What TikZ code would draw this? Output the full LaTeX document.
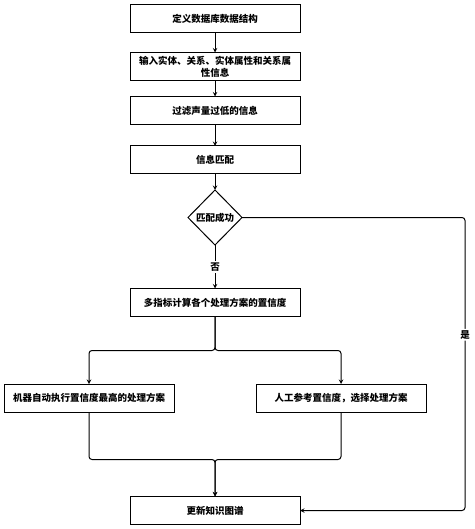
\documentclass[tikz,border=0pt]{standalone}
\usepackage{fontspec}
\newfontfamily\cjk{Noto Sans CJK SC}
\usetikzlibrary{shapes.geometric}
\usetikzlibrary{arrows, positioning}

\begin{document}
\begin{tikzpicture}[->, > = stealth, node distance = 20pt, line width=1pt,
	box/.style = {draw, -, rectangle, minimum width=170pt, minimum height=28pt, align=center, inner sep=2pt, outer sep=0pt, font=\cjk\bfseries\fontsize{9.5pt}{12pt}\selectfont},
	choice/.style = {draw, -, diamond, minimum width=54pt, minimum height=55pt, inner sep=0pt, outer sep=0pt, font=\cjk\bfseries\fontsize{9.5pt}{12pt}\selectfont},
	tag/.style = {fill=white, inner sep=1.5pt, font=\cjk\bfseries\fontsize{9.5pt}{12pt}\selectfont},
	link/.style = {rounded corners=3pt}]

\useasboundingbox (0,0) rectangle (474pt,-529pt);

\node[box]		(define)	at (215pt,-18.5pt)				{定义数据库数据结构};
\node[box]		(input)		[below=of define]				{输入实体、关系、实体属性和关系属\\性信息};
\node[box]		(filter)	[below=16pt of input]			{过滤声量过低的信息};
\node[box]		(match)		[below=21.5pt of filter]		{信息匹配};
\node[choice]	(ok)		[below=16pt of match]			{匹配成功};
\node[box]		(multi)		[below=43.5pt of ok]			{多指标计算各个处理方案的置信度};
\node[box]		(auto)		[below=67.5pt of multi, xshift=-126pt]	{机器自动执行置信度最高的处理方案};
\node[box]		(manual)	[below=67.5pt of multi, xshift=126pt]	{人工参考置信度，选择处理方案};
\node[box]		(kg)		[below=84.5pt of auto, xshift=126pt]	{更新知识图谱};

\coordinate (split)	at ([yshift=-34pt]multi.south);
\coordinate (merge)	at ([yshift=37pt]kg.north);
\coordinate (turn)	at ([xshift=165pt]kg.east);

\path	(define)	edge						(input);
\path	(input)		edge						(filter);
\path	(filter)	edge						(match);
\path	(match)		edge						(ok);
\path	(ok)		edge	node[tag] {否}		(multi);
\draw[link]	(ok.east) -| node[tag, pos=0.7] {是} (turn) -- (kg.east);
\draw[link]	(multi.south) -- (split) -| (auto.north);
\draw[link]	(multi.south) -- (split) -| (manual.north);
\draw[link]	(auto.south) |- (merge) -- (kg.north);
\draw[link]	(manual.south) |- (merge) -- (kg.north);
\end{tikzpicture}
\end{document}
